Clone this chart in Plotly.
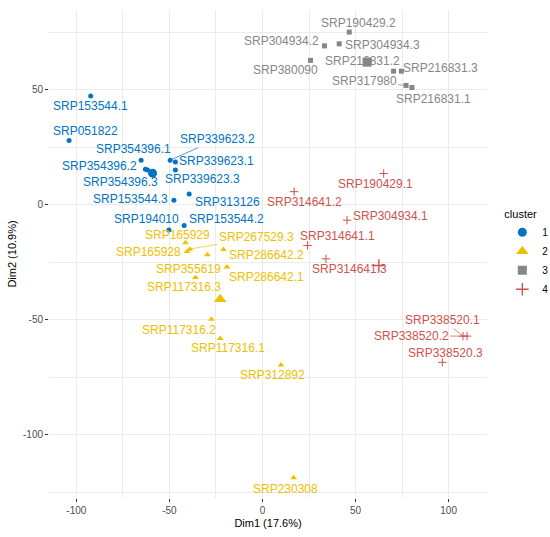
import plotly.graph_objects as go
import numpy as np

# ---- data ----
cluster_ids = ["1", "2", "3", "4"]

names1 = ["SRP153544.1", "SRP051822", "SRP354396.1", "SRP354396.2", "SRP354396.3",
          "SRP339623.2", "SRP339623.1", "SRP339623.3", "SRP153544.3", "SRP313126",
          "SRP194010", "SRP153544.2"]
dim1_c1 = [-92.3, -103.9, -65.2, -62.9, -61.8, -49.6, -46.8, -46.8, -47.6, -39.4, -50.3, -42.1]
dim2_c1 = [47.3, 28.0, 19.4, 15.5, 15.1, 19.4, 18.6, 15.1, 2.0, 4.7, -11.0, -9.0]

names2 = ["SRP165929", "SRP165928", "SRP267529.3", "SRP286642.2", "SRP355619",
          "SRP286642.1", "SRP117316.3", "SRP117316.2", "SRP117316.1", "SRP312892", "SRP230308"]
dim1_c2 = [-41.4, -40.5, -39.0, -21.0, -29.6, -19.1, -36.0, -27.4, -22.7, 9.9, 16.7]
dim2_c2 = [-16.5, -20.3, -19.3, -19.4, -21.7, -27.0, -31.6, -49.8, -58.1, -69.7, -118.7]

names3 = ["SRP190429.2", "SRP304934.2", "SRP304934.3", "SRP380090", "SRP216831.2",
          "SRP216831.3", "SRP317980", "SRP216831.1"]
dim1_c3 = [46.6, 33.3, 41.2, 25.8, 70.4, 74.6, 77.1, 80.3]
dim2_c3 = [75.1, 69.1, 70.0, 62.8, 58.1, 58.1, 51.9, 51.0]

names4 = ["SRP190429.1", "SRP314641.2", "SRP304934.1", "SRP314641.1", "SRP314641.3",
          "SRP338520.1", "SRP338520.2", "SRP338520.3"]
dim1_c4 = [65.1, 17.0, 45.4, 24.2, 34.1, 107.7, 109.9, 96.6]
dim2_c4 = [13.6, 5.7, -6.7, -17.7, -23.5, -57.1, -57.1, -68.5]

x_ticks = [-100, -50, 0, 50, 100]
y_ticks = [-100, -50, 0, 50]

# ---- styling (label placement offsets in pixels, segment flag) ----
label_offsets = {
    "1": [(0, 10, 0), (16, -9, 0), (-8, -11, 0), (-46, -3, 0), (-27, 12, 0), (47, -21, 1),
          (41, -1, 0), (27, 9, 0), (-43, -1, 0), (38, 8, 0), (-22, -11, 0), (42, -6, 0)],
    "2": [(-8, -8, 0), (-39, 1, 0), (67, -12, 1), (43, 6, 0), (-19, 14, 0), (40, 10, 0),
          (-12, 10, 0), (-33, 11, 0), (8, 10, 0), (-8, 10, 0), (-8, 11, 0)],
    "3": [(9, -9, 0), (-43, -5, 0), (43, 1, 0), (-25, 10, 0), (-31, -10, 0), (39, -3, 0),
          (-42, -4, 1), (22, 11, 0)],
    "4": [(-8, 10, 0), (10, 10, 0), (43, -4, 0), (30, -9, 0), (24, 10, 0), (-20, -16, 1),
          (-56, 0, 1), (3, -9, 0)],
}
colors = {"1": "#0073C2", "2": "#EFC000", "3": "#868686", "4": "#CD534C"}
symbols = {"1": "circle", "2": "triangle-up", "3": "square", "4": "cross-thin-open"}
pt_size = {"1": 5, "2": 6, "3": 5, "4": 6}
ctr_size = {"1": 9, "2": 11, "3": 9, "4": 9}

clusters = {
    "1": (names1, dim1_c1, dim2_c1),
    "2": (names2, dim1_c2, dim2_c2),
    "3": (names3, dim1_c3, dim2_c3),
    "4": (names4, dim1_c4, dim2_c4),
}

FONT = "Liberation Sans, Arial, Helvetica, sans-serif"

fig = go.Figure()
annotations = []
for cid in cluster_ids:
    nm, xs, ys = clusters[cid]
    col = colors[cid]
    line = dict(color=col, width=1) if cid == "4" else dict(width=0)
    fig.add_trace(go.Scatter(
        x=xs, y=ys, mode="markers", name=cid, legendgroup=cid, showlegend=False,
        marker=dict(symbol=symbols[cid], size=pt_size[cid], color=col, line=line),
        text=nm, hoverinfo="text"))
    # centroid (mean of cluster members)
    cx, cy = float(np.mean(xs)), float(np.mean(ys))
    cline = dict(color=col, width=1.4) if cid == "4" else dict(width=0)
    fig.add_trace(go.Scatter(
        x=[cx], y=[cy], mode="markers", name=cid, legendgroup=cid, showlegend=True,
        marker=dict(symbol=symbols[cid], size=ctr_size[cid], color=col, line=cline),
        hoverinfo="skip"))
    for name, xv, yv, (dx, dy, seg) in zip(nm, xs, ys, label_offsets[cid]):
        annotations.append(dict(
            x=xv, y=yv, xref="x", yref="y", text=name,
            showarrow=True, ax=dx, ay=dy, axref="pixel", ayref="pixel",
            arrowhead=0, arrowwidth=0.7, standoff=0, startstandoff=0,
            arrowcolor=col if seg else "rgba(0,0,0,0)",
            font=dict(family=FONT, size=12, color=col)))

grid_col = "#EBEBEB"
fig.update_layout(
    width=550, height=537,
    margin=dict(l=49, r=63, t=10, b=39, autoexpand=False),
    paper_bgcolor="white", plot_bgcolor="white",
    font=dict(family=FONT, size=11, color="black"),
    annotations=annotations,
    legend=dict(
        title=dict(text="cluster", font=dict(size=11, color="black")),
        x=1.035, xanchor="left", y=0.5, yanchor="middle",
        font=dict(size=10, color="black"), itemwidth=30, tracegroupgap=0,
        bgcolor="rgba(0,0,0,0)"),
    xaxis=dict(
        range=[-114.7, 120.6], tickvals=x_ticks, ticktext=["-100", "-50", "0", "50", "100"],
        showgrid=True, gridcolor=grid_col, gridwidth=1.1, zeroline=False,
        minor=dict(dtick=25, tick0=0, showgrid=True, gridcolor=grid_col, gridwidth=0.6, ticks=""),
        ticks="outside", ticklen=3, tickwidth=1, tickcolor="#333333",
        tickfont=dict(size=10, color="#4D4D4D"), automargin=False,
        title=dict(text="Dim1 (17.6%)", font=dict(size=11, color="black"), standoff=4),
        showline=False),
    yaxis=dict(
        range=[-127.5, 84.7], tickvals=y_ticks, ticktext=["-100", "-50", "0", "50"],
        showgrid=True, gridcolor=grid_col, gridwidth=1.1, zeroline=False,
        minor=dict(dtick=25, tick0=0, showgrid=True, gridcolor=grid_col, gridwidth=0.6, ticks=""),
        ticks="outside", ticklen=3, tickwidth=1, tickcolor="#333333",
        tickfont=dict(size=10, color="#4D4D4D"), automargin=False,
        title=dict(text="Dim2 (10.9%)", font=dict(size=11, color="black"), standoff=4),
        showline=False),
)

fig.write_html("out.html", config={"displayModeBar": False},
               post_script="document.body.style.margin='0';document.body.style.padding='0';")
